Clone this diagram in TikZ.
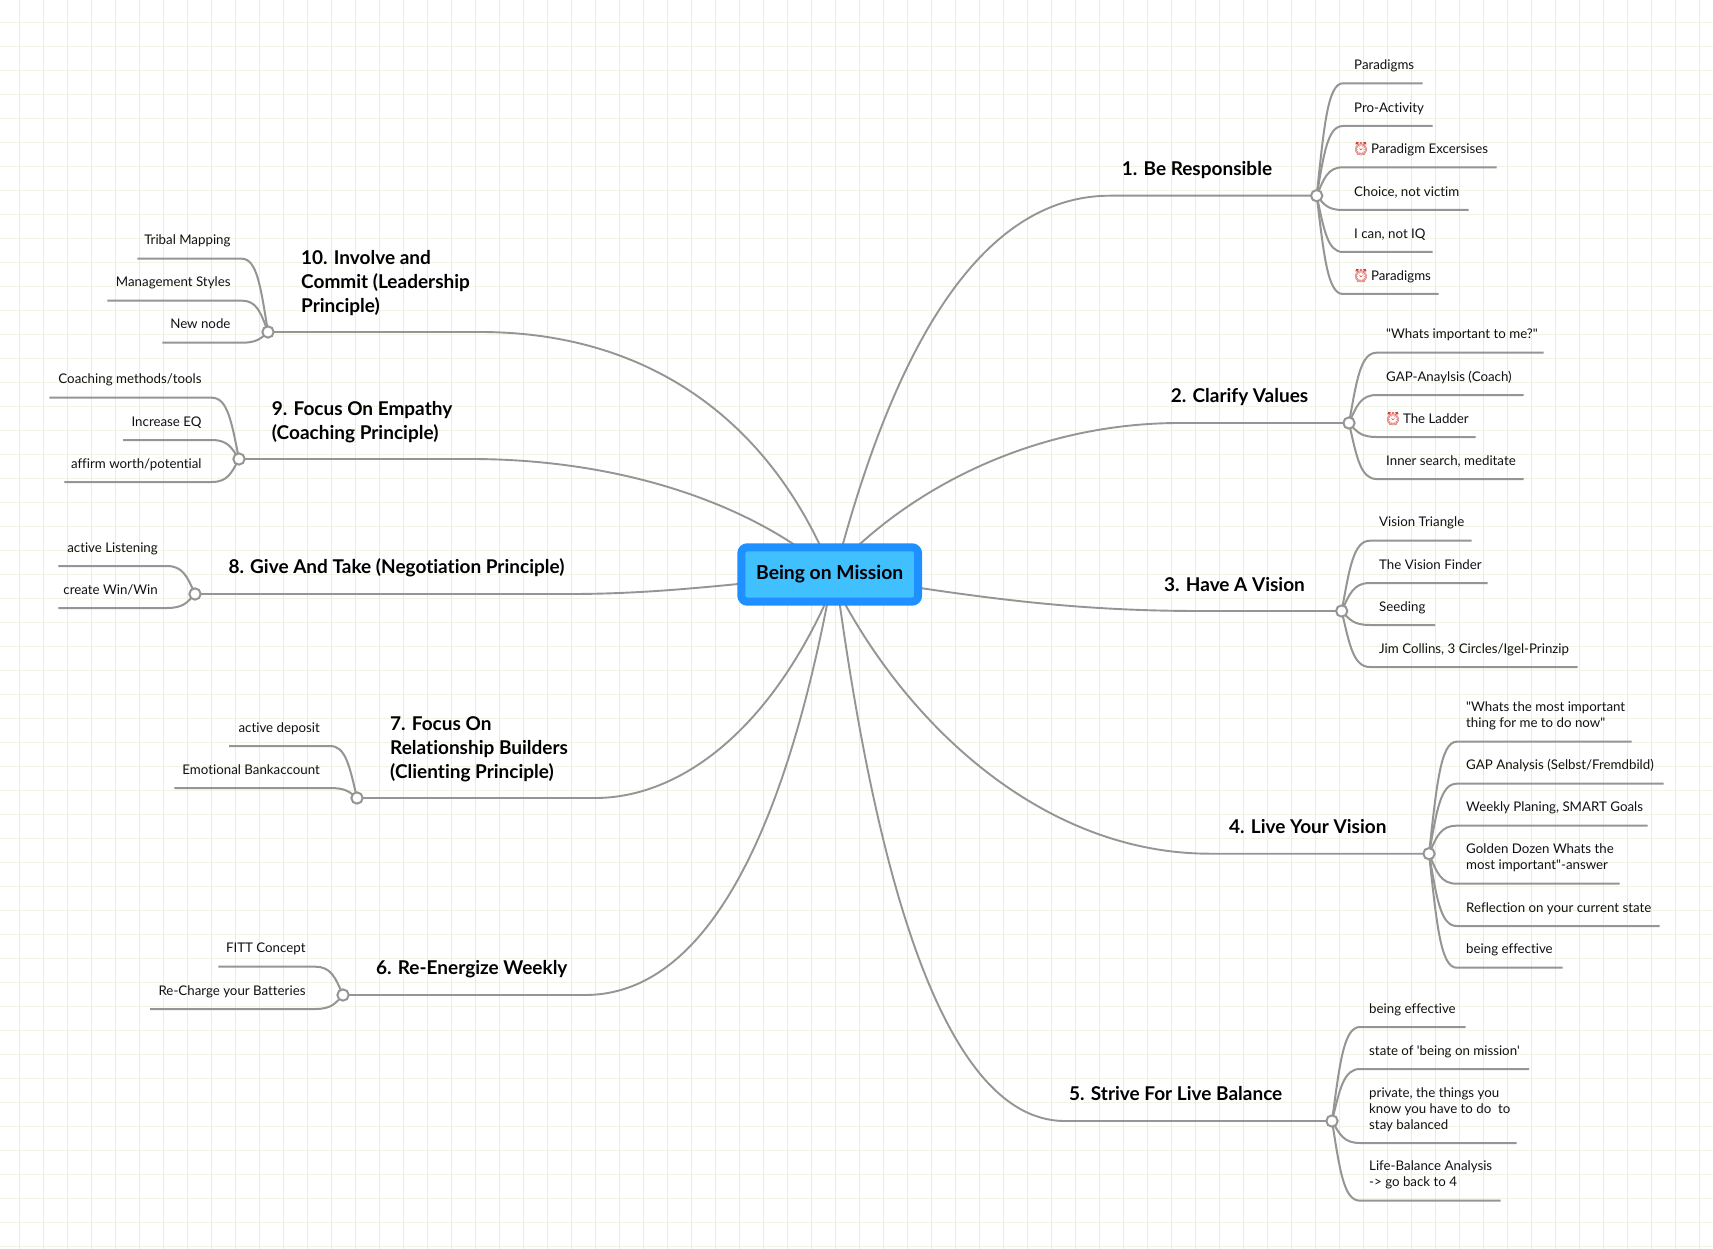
\documentclass[tikz,border=0pt]{standalone}
\usepackage{fontspec}
\usetikzlibrary{calc}
\setmainfont{Lato}[Ligatures={TeXOff,NoCommon}]
\newfontfamily\emojifont{Noto Emoji}
\definecolor{linegray}{HTML}{959595}
\definecolor{gridv}{HTML}{E9EDE0}
\definecolor{gridh}{HTML}{EFF6E6}
\definecolor{rootedge}{HTML}{1E90FF}
\definecolor{rootfill}{HTML}{40C0FF}
\definecolor{alarm}{HTML}{D43C32}
\definecolor{inktext}{HTML}{111111}
\pgfdeclarelayer{bg}
\pgfsetlayers{bg,main}
\tikzset{
  rootbox/.style={draw=rootedge,fill=rootfill,line width=8pt,rounded corners=6pt,minimum width=176.7pt,minimum height=54.4pt,inner sep=0pt,font=\fontsize{19.3}{24}\selectfont\bfseries,text=black},
  hubdot/.style={circle,draw=linegray,fill=white,line width=2pt,minimum size=11.3pt,inner sep=0pt},
  mainlabel/.style={inner sep=0pt,anchor=base west,align=left,font=\fontsize{19}{24}\selectfont\bfseries,text=black},
  kidlabel/.style={inner sep=0pt,align=left,font=\fontsize{13.3}{16}\selectfont,text=inktext},
  mainline/.style={draw=linegray,line width=1.9pt},
  kidline/.style={draw=linegray,line width=2pt},
}
\newcommand\clock{\hspace*{-1.5pt}{\emojifont\textcolor{alarm}{⏰}}\hspace{-2pt}}
% hub, start shift, c1, c2, end x
\newcommand\mainlink[5]{%
  \coordinate (E#1) at (#5,0 |- #1);
  \draw[mainline] ([xshift=#2pt]root.center) .. controls (#3) and (#4 |- #1) .. (E#1) -- (#1.center);
}
% hub, name, curve-end x, y, far x, text x, anchor, text
\newcommand\kid[8]{%
  \node[kidlabel,anchor=base #7] (#2) at (#6,#4-13.8) {#8};
  \begin{pgfonlayer}{bg}
  \coordinate (#2e) at (#3,#4);
  \coordinate (#2f) at (#5,#4);
  \coordinate (#2a) at ($(#1)!0.28!(#2e)$);
  \coordinate (#2b) at ($(#1)!0.62!(#2e)$);
  \coordinate (#2c) at ($(#1)!0.42!(#2e)$);
  \draw[kidline] (#1.center) .. controls (#2a |- #2b) and (#2c |- #2e) .. (#2e) -- (#2f);
  \end{pgfonlayer}
}
\begin{document}
\begin{tikzpicture}[x=1pt,y=-1pt]
\useasboundingbox (0,0) rectangle (1713,1249);
\begin{pgfonlayer}{bg}
\fill[white] (0,0) rectangle (1713,1249);
\foreach \yy in {22.5,46.5,...,1249} \draw[gridh,line width=1pt] (0,\yy) -- (1713,\yy);
\foreach \xx in {19.5,43.5,...,1713} \draw[gridv,line width=1pt] (\xx,0) -- (\xx,1249);
\end{pgfonlayer}

\node[rootbox] (root) at (829.7,574.5) {Being on Mission};

\node[hubdot] (h1) at (1316.7,195.7) {};
\node[hubdot] (h2) at (1349,423) {};
\node[hubdot] (h3) at (1341.7,611) {};
\node[hubdot] (h4) at (1429,853.7) {};
\node[hubdot] (h5) at (1332,1121) {};
\node[hubdot] (h6) at (343,995) {};
\node[hubdot] (h7) at (357,798) {};
\node[hubdot] (h8) at (195,594) {};
\node[hubdot] (h9) at (239,459) {};
\node[hubdot] (h10) at (268,332) {};

\node[mainlabel] (m1) at (1121.7,176) {1. Be Responsible};
\node[mainlabel] (m2) at (1170.7,402.7) {2. Clarify Values};
\node[mainlabel] (m3) at (1164,591) {3. Have A Vision};
\node[mainlabel] (m4) at (1229,833.5) {4. Live Your Vision};
\node[mainlabel] (m5) at (1069,1100.5) {5. Strive For Live Balance};
\node[mainlabel] (m6) at (376,974.5) {6. Re-Energize Weekly};
\node[mainlabel] (m7) at (390,778) {7. Focus On\\Relationship Builders\\(Clienting Principle)};
\node[mainlabel] (m8) at (228.3,573.5) {8. Give And Take (Negotiation Principle)};
\node[mainlabel] (m9) at (271.7,439.5) {9. Focus On Empathy\\(Coaching Principle)};
\node[mainlabel] (m10) at (301,312.5) {10. Involve and\\Commit (Leadership\\Principle)};

\begin{pgfonlayer}{bg}
\mainlink{h1}{5}{880,400}{960,0}{1110}
\mainlink{h2}{0}{903,492}{1030,0}{1180}
\mainlink{h3}{0}{950,592}{1050,0}{1200}
\mainlink{h4}{0}{900,720}{1040,0}{1210}
\mainlink{h5}{6}{871,840}{935,0}{1065}
\mainlink{h6}{3}{792,800}{718,0}{585}
\mainlink{h7}{8}{775,730}{680,0}{595}
\mainlink{h8}{0}{720,586}{650,0}{570}
\mainlink{h9}{4}{752,503}{620,0}{470}
\mainlink{h10}{3}{772,422}{650,0}{480}
\end{pgfonlayer}

\kid{h1}{a1}{1343}{83.3}{1422.7}{1354}{west}{Paradigms}
\kid{h1}{a2}{1343}{126}{1432.7}{1354}{west}{Pro-Activity}
\kid{h1}{a3}{1343}{167.3}{1496.7}{1354}{west}{\clock\ Paradigm Excersises}
\kid{h1}{a4}{1343}{210}{1468.7}{1354}{west}{Choice, not victim}
\kid{h1}{a5}{1343}{252}{1432.7}{1354}{west}{I can, not IQ}
\kid{h1}{a6}{1343}{294}{1438.7}{1354}{west}{\clock\ Paradigms}

\kid{h2}{b1}{1376.7}{352.7}{1543.7}{1386}{west}{"Whats important to me?"}
\kid{h2}{b2}{1376.7}{395}{1523.7}{1386}{west}{GAP-Anaylsis (Coach)}
\kid{h2}{b3}{1376.7}{437}{1475.7}{1386}{west}{\clock\ The Ladder}
\kid{h2}{b4}{1376.7}{479}{1523.7}{1386}{west}{Inner search, meditate}

\kid{h3}{c1}{1370}{540.7}{1471.7}{1379}{west}{Vision Triangle}
\kid{h3}{c2}{1370}{583}{1487.7}{1379}{west}{The Vision Finder}
\kid{h3}{c3}{1370}{625}{1435}{1379}{west}{Seeding}
\kid{h3}{c4}{1370}{667}{1577.6}{1379}{west}{Jim Collins, 3 Circles/Igel-Prinzip}

\kid{h4}{d1}{1456.7}{741.7}{1631.7}{1466}{west}{"Whats the most important\\thing for me to do now"}
\kid{h4}{d2}{1456.7}{783.7}{1663.7}{1466}{west}{GAP Analysis (Selbst/Fremdbild)}
\kid{h4}{d3}{1456.7}{825.7}{1647.7}{1466}{west}{Weekly Planing, SMART Goals}
\kid{h4}{d4}{1456.7}{883.7}{1619.7}{1466}{west}{Golden Dozen Whats the\\most important"-answer}
\kid{h4}{d5}{1456.7}{926}{1659.7}{1466}{west}{Reflection on your current state}
\kid{h4}{d6}{1456.7}{967.7}{1562.7}{1466}{west}{being effective}

\kid{h5}{e1}{1360}{1027}{1465.7}{1369}{west}{being effective}
\kid{h5}{e2}{1360}{1069}{1529}{1369}{west}{state of 'being on mission'}
\kid{h5}{e3}{1360}{1143}{1516.7}{1369}{west}{private, the things you\\know you have to do\ \ to\\stay balanced}
\kid{h5}{e4}{1360}{1200.7}{1500.7}{1369}{west}{Life-Balance Analysis\\-> go back to 4}

\kid{h6}{f1}{315}{966.7}{218.3}{305.7}{east}{FITT Concept}
\kid{h6}{f2}{315}{1009}{150}{305.7}{east}{Re-Charge your Batteries}

\kid{h7}{g1}{330}{746}{229}{320}{east}{active deposit}
\kid{h7}{g2}{330}{788}{174.3}{320}{east}{Emotional Bankaccount}

\kid{h8}{i1}{166.7}{566}{58.3}{158}{east}{active Listening}
\kid{h8}{i2}{166.7}{608}{58.3}{158}{east}{create Win/Win}

\kid{h9}{j1}{211.7}{397.7}{49.3}{201.7}{east}{Coaching methods/tools}
\kid{h9}{j2}{211.7}{440}{123}{201.7}{east}{Increase EQ}
\kid{h9}{j3}{211.7}{482}{64.3}{201.7}{east}{affirm worth/potential}

\kid{h10}{k1}{241.7}{258.7}{137.3}{230.7}{east}{Tribal Mapping}
\kid{h10}{k2}{241.7}{300.7}{107.3}{230.7}{east}{Management Styles}
\kid{h10}{k3}{241.7}{342.7}{162.3}{230.7}{east}{New node}
\end{tikzpicture}
\end{document}
